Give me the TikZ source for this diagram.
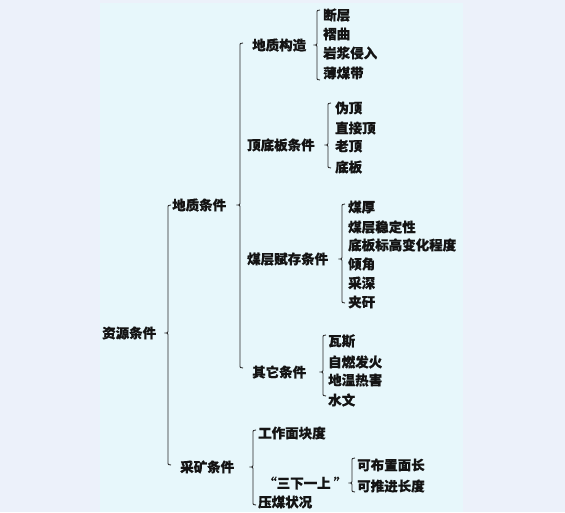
\documentclass[tikz,border=0pt]{standalone}
\usepackage{fontspec}
\setmainfont{Noto Sans CJK SC}[FakeBold=0.5]
\definecolor{outerbg}{RGB}{236,241,250}
\definecolor{innerbg}{RGB}{231,247,251}
\definecolor{ink}{RGB}{20,20,20}
\definecolor{bracecol}{RGB}{40,40,40}
\newcommand\cbrace[4]{%
  \draw[bracestyle] ({#1+3},{#2}) .. controls ({#1},{#2}) .. ({#1},{#2+4})
    -- ({#1},{#3-4}) .. controls ({#1},{#3}) .. ({#1-3.5},{#3})
    .. controls ({#1},{#3}) .. ({#1},{#3+4})
    -- ({#1},{#4-4}) .. controls ({#1},{#4}) .. ({#1+3},{#4});}
\begin{document}
\begin{tikzpicture}[x=1pt,y=-1pt,
  lbl/.style={anchor=west,inner sep=0pt,text=ink,font=\fontsize{13.5}{13.5}\selectfont\bfseries},
  bracestyle/.style={draw=bracecol,line width=0.85pt}]
\useasboundingbox (0,0) rectangle (565,512);
\fill[outerbg] (0,0) rectangle (565,512);
\fill[innerbg] (100,3) rectangle (463,512);
% level 0
\node[lbl] (root) at (102,333) {资源条件};
% level 1
\node[lbl] (dz) at (172,205) {地质条件};
\node[lbl] (ck) at (180,467) {采矿条件};
% level 2 (geology)
\node[lbl] (gz) at (252,45) {地质构造};
\node[lbl] (dd) at (247,145) {顶底板条件};
\node[lbl] (mc) at (247,259) {煤层赋存条件};
\node[lbl] (qt) at (252,372) {其它条件};
% 地质构造 children
\node[lbl] (g1) at (323,15) {断层};
\node[lbl] (g2) at (323,34) {褶曲};
\node[lbl] (g3) at (323,53) {岩浆侵入};
\node[lbl] (g4) at (323,73) {薄煤带};
% 顶底板条件 children
\node[lbl] (d1) at (335,108) {伪顶};
\node[lbl] (d2) at (335,128) {直接顶};
\node[lbl] (d3) at (335,146) {老顶};
\node[lbl] (d4) at (335,167) {底板};
% 煤层赋存条件 children
\node[lbl] (m1) at (348,207) {煤厚};
\node[lbl] (m2) at (348,227) {煤层稳定性};
\node[lbl] (m3) at (348,245) {底板标高变化程度};
\node[lbl] (m4) at (348,264) {倾角};
\node[lbl] (m5) at (348,283) {采深};
\node[lbl] (m6) at (348,302) {夹矸};
% 其它条件 children
\node[lbl] (q1) at (328,341) {瓦斯};
\node[lbl] (q2) at (328,362) {自燃发火};
\node[lbl] (q3) at (328,380) {地温热害};
\node[lbl] (q4) at (328,400) {水文};
% 采矿条件 children
\node[lbl] (c1) at (258,433) {工作面块度};
\node[lbl] (c2) at (263,483) {“三下一上 ”};
\node[lbl] (c3) at (258,502) {压煤状况};
\node[lbl] (s1) at (357,465) {可布置面长};
\node[lbl] (s2) at (357,486) {可推进长度};
% braces
\cbrace{168}{205}{333}{465}
\cbrace{240}{43}{205}{368}
\cbrace{317}{10}{45}{80}
\cbrace{328}{103}{145}{168}
\cbrace{342}{204}{259}{303}
\cbrace{323}{335}{372}{396}
\cbrace{253}{430}{467}{505}
\cbrace{352}{458}{483}{492}
\end{tikzpicture}
\end{document}
